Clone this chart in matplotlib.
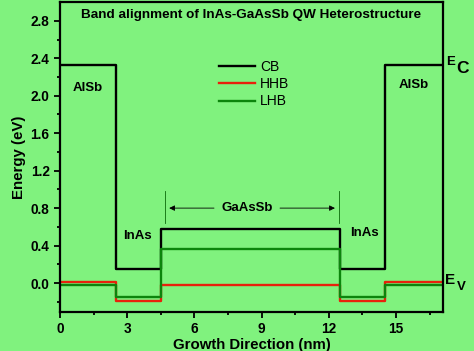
"""
Band alignment of an InAs-GaAsSb QW heterostructure
"""
import numpy as np
import matplotlib
matplotlib.use("Agg")
import matplotlib.pyplot as plt

matplotlib.rcParams.update({
    "font.family": ["Liberation Sans", "DejaVu Sans"],
    "font.weight": "bold",
    "axes.labelweight": "bold",
})

BG = "#80f27e"

# layer boundaries along growth direction (nm)
edges = [0.0, 2.5, 4.5, 12.5, 14.5, 17.0]
layers = ["AlSb", "InAs", "GaAsSb", "InAs", "AlSb"]

# band energies per layer (eV)
cb = [2.33, 0.15, 0.58, 0.15, 2.33]
hhb = [0.01, -0.19, -0.02, -0.19, 0.01]
lhb = [-0.02, -0.15, 0.36, -0.15, -0.02]


def steps(vals):
    x = np.repeat(edges, 2)[1:-1]
    y = np.repeat(vals, 2)
    return x, y


fig = plt.figure(figsize=(4.74, 3.51), dpi=100, facecolor=BG)
ax = fig.add_axes([0.1266, 0.111, 0.808, 0.883])
ax.set_facecolor(BG)

for vals, col, lab in [(cb, "black", "CB"), (hhb, "#e8210c", "HHB"),
                       (lhb, "#0c850c", "LHB")]:
    x, y = steps(vals)
    ax.plot(x, y, color=col, lw=1.7, label=lab)

ax.set_xlim(0, 17.1)
ax.set_ylim(-0.31, 3.0)
ax.set_xticks([0, 3, 6, 9, 12, 15])
ax.set_yticks(np.arange(0, 2.81, 0.4))
ax.set_xticks(np.arange(1.5, 17, 3), minor=True)
ax.set_yticks(np.arange(-0.2, 3.0, 0.4), minor=True)
ax.tick_params(which="both", top=False, right=False, direction="out",
               labelsize=9.8, width=1.3)
ax.tick_params(which="major", length=4)
ax.tick_params(which="minor", length=2.5)
ax.yaxis.set_major_formatter(matplotlib.ticker.FormatStrFormatter("%.1f"))
for lbl in ax.get_xticklabels() + ax.get_yticklabels():
    lbl.set_fontweight("bold")
for s in ax.spines.values():
    s.set_linewidth(1.6)

ax.set_xlabel("Growth Direction (nm)", fontsize=10.8, labelpad=1,
              fontweight="bold")
ax.set_ylabel("Energy (eV)", fontsize=10.8, labelpad=3, fontweight="bold")

ax.text(0.5, 0.957, "Band alignment of InAs-GaAsSb QW Heterostructure",
        transform=ax.transAxes, ha="center", va="center", fontsize=9.7,
        fontweight="bold")

lab_kw = dict(ha="center", va="center", fontsize=9.5, fontweight="bold")
ax.text(1.25, 2.08, "AlSb", **lab_kw)
ax.text(15.8, 2.12, "AlSb", **lab_kw)
ax.text(3.45, 0.5, "InAs", **lab_kw)
ax.text(13.6, 0.53, "InAs", **lab_kw)
ax.text(8.35, 0.8, "GaAsSb", **lab_kw)

# GaAsSb width marker
ax.plot([4.7, 4.7], [0.64, 0.98], color="#0a6a0a", lw=0.6)
ax.plot([12.45, 12.45], [0.64, 0.98], color="#0a6a0a", lw=0.6)
ax.annotate("", xy=(4.75, 0.8), xytext=(7.0, 0.8),
            arrowprops=dict(arrowstyle="-|>", color="black", lw=0.6,
                            mutation_scale=8))
ax.annotate("", xy=(12.4, 0.8), xytext=(9.7, 0.8),
            arrowprops=dict(arrowstyle="-|>", color="black", lw=0.6,
                            mutation_scale=8))

ax.legend(loc="upper left", bbox_to_anchor=(0.383, 0.855), frameon=False,
          handlelength=2.6, handletextpad=0.35, labelspacing=0.25,
          prop={"weight": "medium", "size": 10})

# band edge labels outside the axes
ax.text(17.25, 2.36, "E", fontsize=9.5, ha="left", va="center",
        clip_on=False, fontweight="bold")
ax.text(17.7, 2.29, "C", fontsize=12.5, ha="left", va="center",
        clip_on=False, fontweight="bold")
ax.text(17.2, 0.03, "E", fontsize=11, ha="left", va="center",
        clip_on=False, fontweight="bold")
ax.text(17.7, -0.04, "V", fontsize=9.5, ha="left", va="center",
        clip_on=False, fontweight="bold")

fig.savefig("out.png", dpi=100, facecolor=BG)
